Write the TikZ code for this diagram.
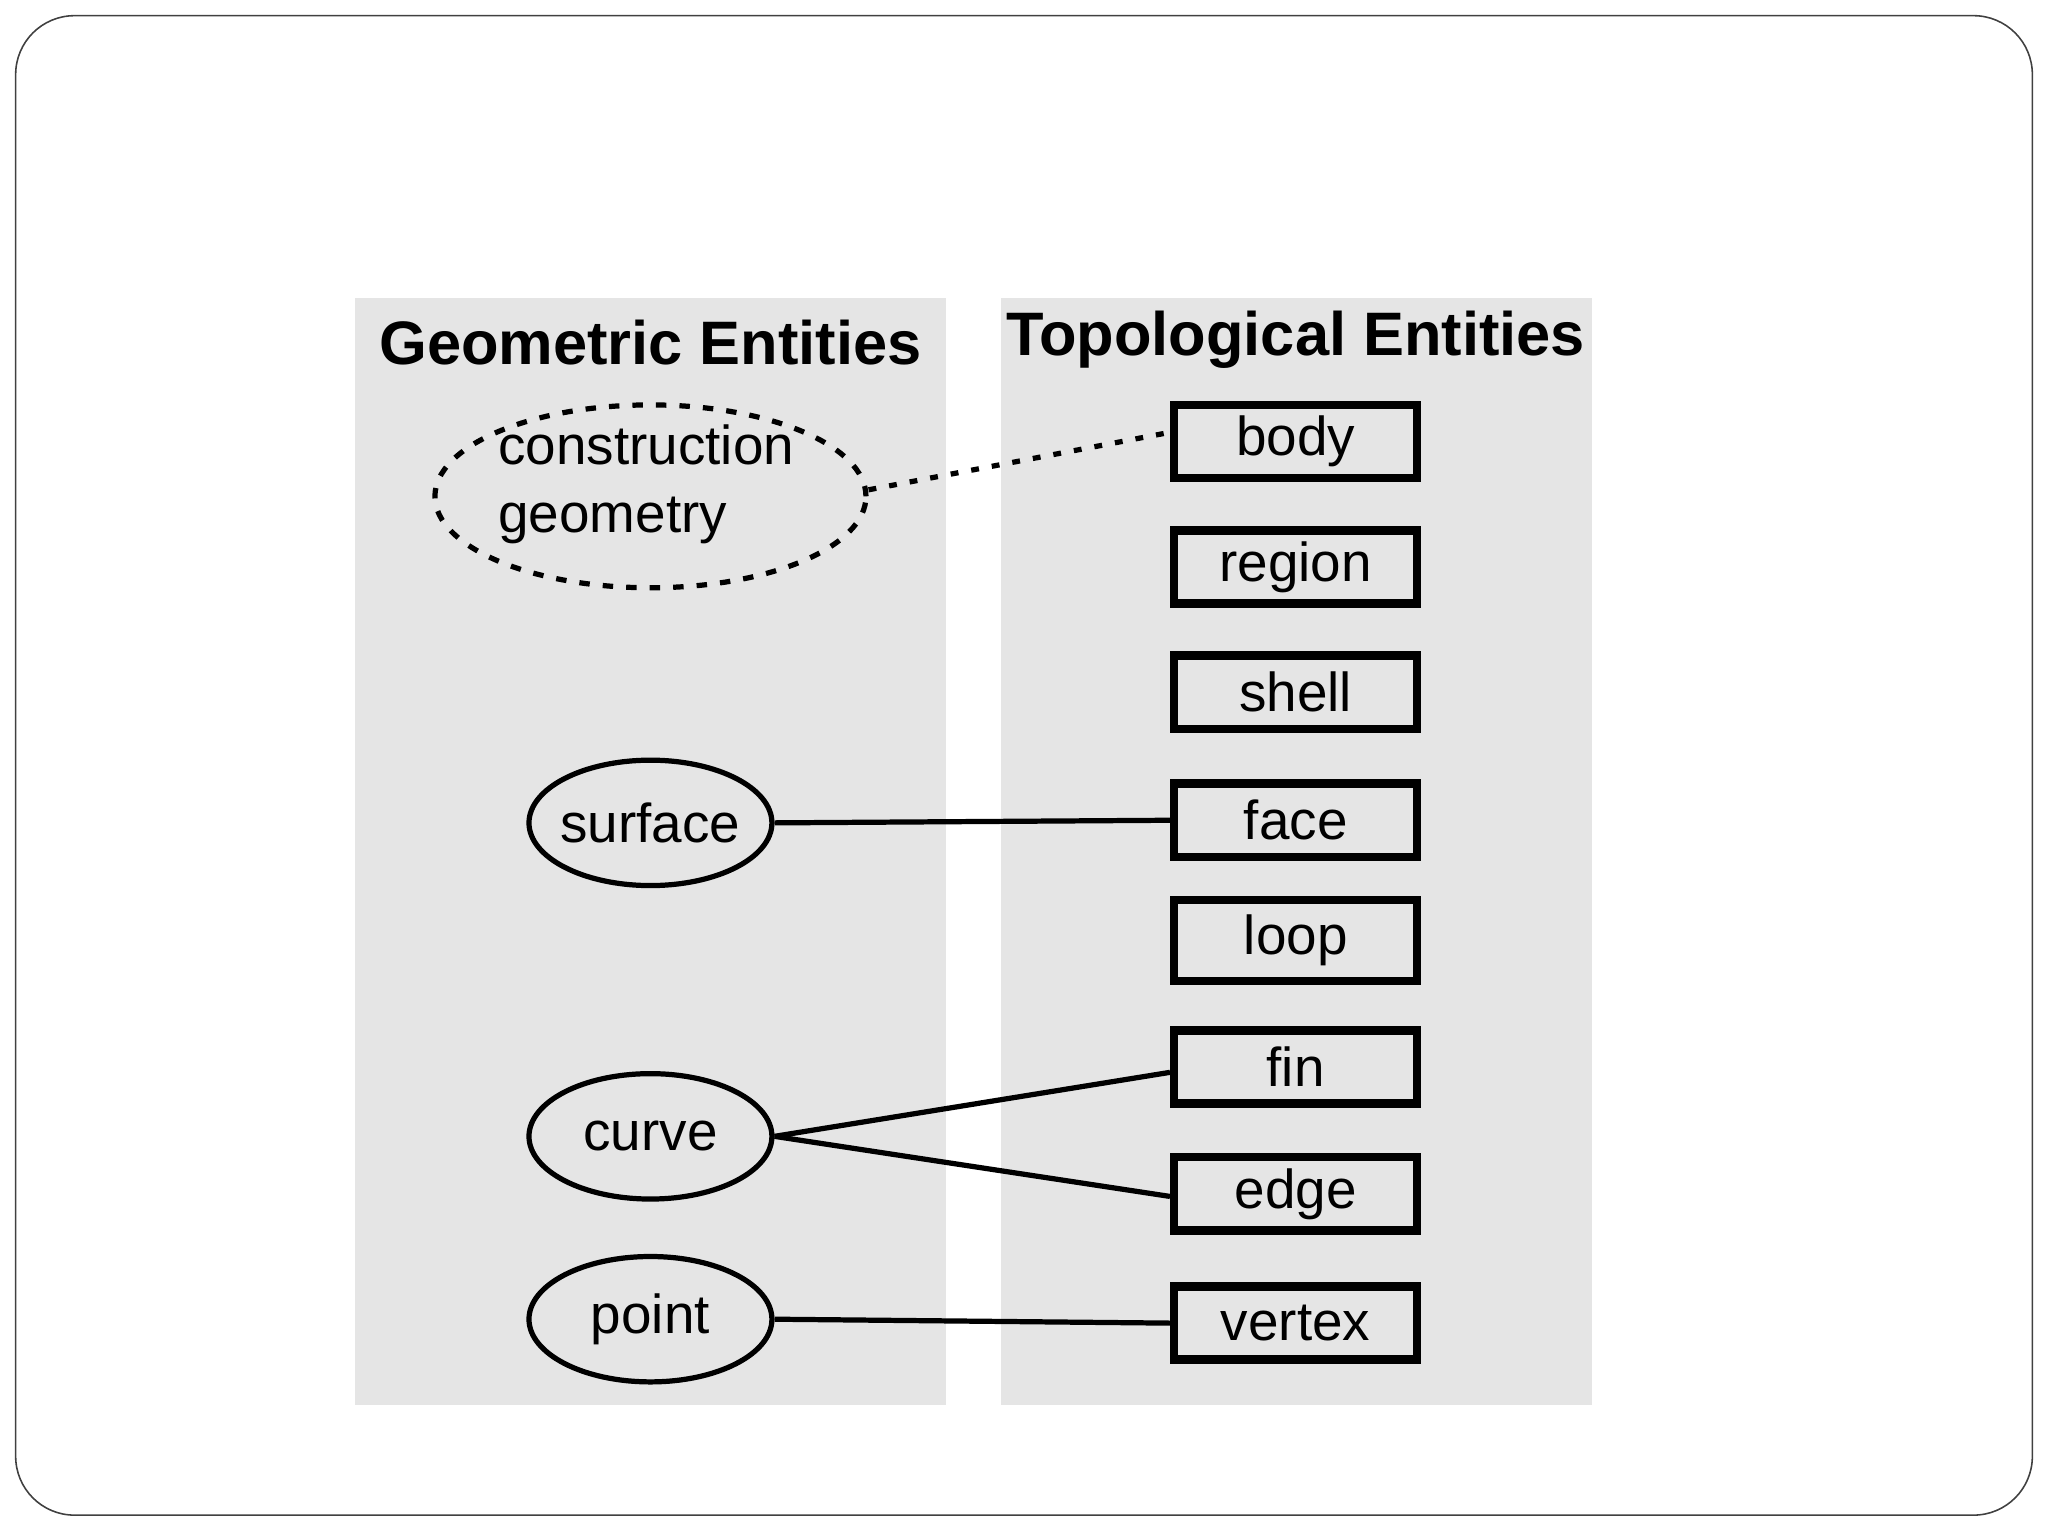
\documentclass[tikz,border=0pt]{standalone}
\usepackage{fontspec}
\setmainfont{Liberation Sans}
\usetikzlibrary{shapes.geometric}
\begin{document}
\begin{tikzpicture}[x=1pt,y=-1pt,
  lbl/.style={font=\fontsize{42}{52}\selectfont},
  ttl/.style={font=\bfseries\fontsize{47}{52}\selectfont},
  tbox/.style={draw,line width=6.5pt,minimum width=186pt,minimum height=56pt,inner sep=0pt,lbl},
  gell/.style={draw,line width=4pt,ellipse,minimum width=186pt,minimum height=96pt,inner sep=0pt,lbl},
  conn/.style={line width=4pt}]
\useasboundingbox (0,0) rectangle (1568,1176);
\fill[white] (0,0) rectangle (1568,1176);
\draw[line width=1.2pt,draw=black!75,rounded corners=45pt] (12,12) rectangle (1556,1160);
\fill[black!10] (272,228) rectangle (724,1076);
\fill[black!10] (766,228) rectangle (1219,1076);
\node[ttl] (tg) at (498,262) {Geometric Entities};
\node[ttl] (tt) at (992,260) {Topological Entities};
\node[draw,ellipse,line width=4pt,dash pattern=on 8pt off 10pt,minimum width=330pt,minimum height=140pt] (cg) at (498,380) {};
\node[lbl,align=left,anchor=west] (cgt) at (378,371) {construction\\geometry};
\node[tbox] (body) at (992,338) {body};
\node[tbox] (region) at (992,434) {region};
\node[tbox] (shell) at (992,530) {shell};
\node[tbox] (face) at (992,628) {face};
\node[tbox,minimum height=62pt] (loop) at (992,720) {loop};
\node[tbox] (fin) at (992,817) {fin};
\node[tbox] (edge) at (992,914) {edge};
\node[tbox] (vertex) at (992,1013) {vertex};
\node[gell,inner xsep=-14pt] (surface) at (498,630) {surface};
\node[gell] (curve) at (498,870) {curve};
\node[gell] (point) at (498,1010) {point};
\draw[conn] (surface.east) -- (face.west);
\draw[conn] (curve.east) -- ([yshift=-4pt]fin.west);
\draw[conn] (curve.east) -- ([yshift=-2pt]edge.west);
\draw[conn] (point.east) -- (vertex.west);
\draw[line width=4pt,dash pattern=on 6pt off 10pt] (cg.east) ++(0,-5) -- ([yshift=7pt]body.west);
\end{tikzpicture}
\end{document}
